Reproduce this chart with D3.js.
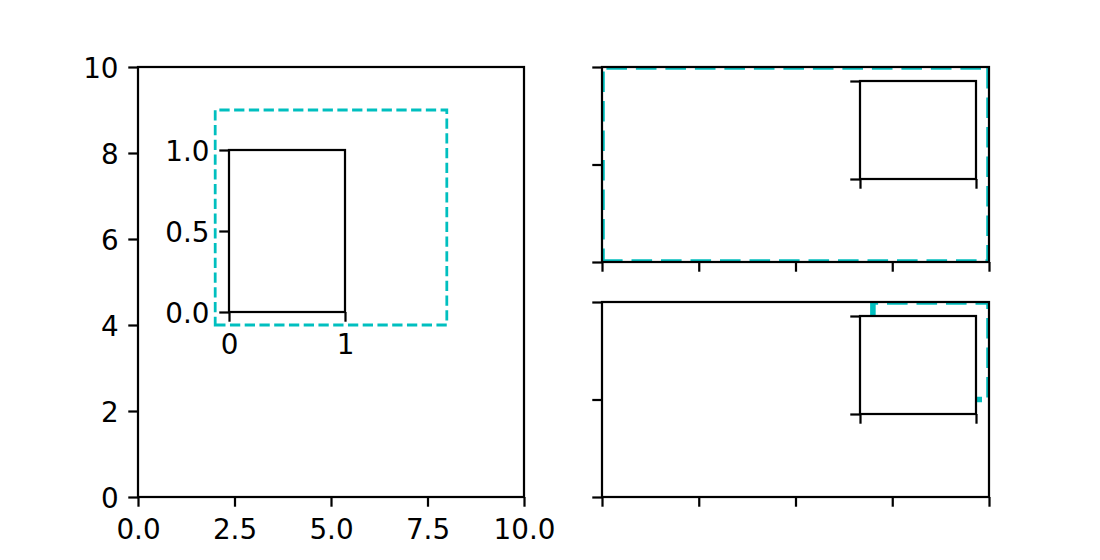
<!DOCTYPE html>
<html>
<head>
<meta charset="utf-8">
<script src="https://cdn.jsdelivr.net/npm/d3@7"></script>
<style>
  body { margin: 0; background: #fff; }
  svg { display: block; }
  .tick text { font-family: "DejaVu Sans", sans-serif; font-size: 27.8px; fill: #000; }
  .tick line { stroke: #000; stroke-width: 2.22; }
</style>
</head>
<body>
<script>
// main axes (left)
const mainXDomain = [0, 10];
const mainYDomain = [0, 10];
const mainXTicks = [0, 2.5, 5, 7.5, 10];
const mainYTicks = [0, 2, 4, 6, 8, 10];
const mainXLabels = ['0.0', '2.5', '5.0', '7.5', '10.0'];
const mainYLabels = ['0', '2', '4', '6', '8', '10'];
// inset of left axes
const insetXTicks = [0, 1];
const insetYTicks = [0, 0.5, 1];
const insetXLabels = ['0', '1'];
const insetYLabels = ['0.0', '0.5', '1.0'];
// dashed box in data coords of the left axes [x0, x1, y0, y1]
const boxLeft = [2, 8, 4, 9];
// right axes (no labels)
const rightXTicks = [0, 0.25, 0.5, 0.75, 1];
const rightYTicks = [0, 0.5, 1];
const rightInsetTicks = [0, 1];
// dashed boxes in axes fraction
const boxTopRight = [0, 1, 0, 1];
const boxBottomRight = [0.7, 1, 0.5, 1];

const W = 1100, H = 560;
const LW = 2.22, TICK = 9.72, PAD = 9.72;
const CYAN = '#00bfbf';

const svg = d3.select('body').append('svg').attr('width', W).attr('height', H);

let clipId = 0;

// one axes: box in pixels, domains, ticks
function axes(g, o) {
  const x = d3.scaleLinear().domain(o.xd).range([o.x0, o.x1]);
  const y = d3.scaleLinear().domain(o.yd).range([o.y1, o.y0]);
  if (o.fill) {
    g.append('rect')
      .attr('x', o.x0).attr('y', o.y0)
      .attr('width', o.x1 - o.x0).attr('height', o.y1 - o.y0)
      .attr('fill', '#fff');
  }
  const xAxis = d3.axisBottom(x).tickValues(o.xt).tickSize(TICK).tickPadding(PAD)
    .tickFormat((d, i) => o.xl ? o.xl[i] : '');
  const yAxis = d3.axisLeft(y).tickValues(o.yt).tickSize(TICK).tickPadding(PAD)
    .tickFormat((d, i) => o.yl ? o.yl[i] : '');
  const content = g.append('g');
  g.append('g').attr('transform', `translate(0,${o.y1})`).call(xAxis)
    .call(s => s.select('.domain').remove())
    .call(s => s.selectAll('.tick text').attr('dy', '0.82em'));
  g.append('g').attr('transform', `translate(${o.x0},0)`).call(yAxis)
    .call(s => s.select('.domain').remove())
    .call(s => s.selectAll('.tick text').attr('dy', '0.37em'));
  g.selectAll('.tick text').attr('font-family', null).attr('font-size', null);
  g.selectAll('.tick line').attr('stroke', null);
  // spines
  g.append('rect')
    .attr('x', o.x0).attr('y', o.y0)
    .attr('width', o.x1 - o.x0).attr('height', o.y1 - o.y0)
    .attr('fill', 'none').attr('stroke', '#000').attr('stroke-width', LW)
    .attr('stroke-linejoin', 'miter');
  return {x, y, content};
}

function dashedBox(ax, b, lw, dash, clip) {
  const p = d3.path();
  p.moveTo(ax.x(b[0]), ax.y(b[2]));
  p.lineTo(ax.x(b[1]), ax.y(b[2]));
  p.lineTo(ax.x(b[1]), ax.y(b[3]));
  p.lineTo(ax.x(b[0]), ax.y(b[3]));
  p.closePath();
  const path = ax.content.append('path')
    .attr('d', p.toString())
    .attr('fill', 'none')
    .attr('stroke', CYAN)
    .attr('stroke-width', lw)
    .attr('stroke-dasharray', dash.join(','));
  if (clip) {
    const id = 'clip' + (clipId++);
    const r = ax.x.range(), ry = ax.y.range();
    svg.append('clipPath').attr('id', id).append('rect')
      .attr('x', r[0]).attr('y', ry[1])
      .attr('width', r[1] - r[0]).attr('height', ry[0] - ry[1]);
    path.attr('clip-path', `url(#${id})`);
  }
}

// left
const gL = svg.append('g');
const axL = axes(gL, {x0: 138, x1: 524, y0: 67, y1: 497, xd: mainXDomain, yd: mainYDomain,
  xt: mainXTicks, yt: mainYTicks, xl: mainXLabels, yl: mainYLabels});
dashedBox(axL, boxLeft, 2.78, [10.3, 4.45], false);
const gLi = svg.append('g');
axes(gLi, {x0: 229, x1: 345, y0: 150, y1: 312, xd: [0, 1], yd: [0, 1],
  xt: insetXTicks, yt: insetYTicks, xl: insetXLabels, yl: insetYLabels});

// top right
const gT = svg.append('g');
const axT = axes(gT, {x0: 602, x1: 989, y0: 67, y1: 262, xd: [0, 1], yd: [0, 1],
  xt: rightXTicks, yt: rightYTicks});
dashedBox(axT, boxTopRight, 5.56, [20.6, 8.9], true);
const gTi = svg.append('g');
axes(gTi, {x0: 860, x1: 976, y0: 81, y1: 179, xd: [0, 1], yd: [0, 1],
  xt: rightInsetTicks, yt: rightInsetTicks, fill: true});

// bottom right
const gB = svg.append('g');
const axB = axes(gB, {x0: 602, x1: 989, y0: 302, y1: 497, xd: [0, 1], yd: [0, 1],
  xt: rightXTicks, yt: rightYTicks});
dashedBox(axB, boxBottomRight, 5.56, [20.6, 8.9], true);
const gBi = svg.append('g');
axes(gBi, {x0: 860, x1: 976, y0: 316, y1: 414, xd: [0, 1], yd: [0, 1],
  xt: rightInsetTicks, yt: rightInsetTicks, fill: true});
</script>
</body>
</html>
